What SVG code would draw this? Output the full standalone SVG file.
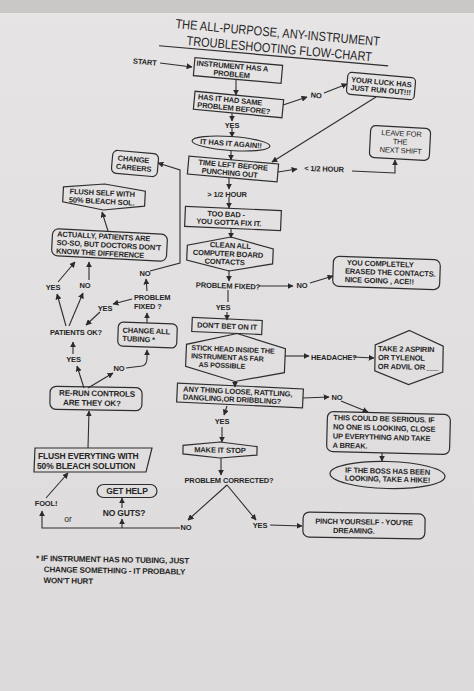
<svg xmlns="http://www.w3.org/2000/svg" width="474" height="691" viewBox="0 0 474 691">
<style>
.t{font-family:"Liberation Sans Narrow","Liberation Sans",Arial,sans-serif;font-weight:bold;font-size:7.5px;fill:#262626;letter-spacing:-0.15px}
.m{text-anchor:middle}
.lg{font-size:8.5px}
.fn{font-size:8px}
.rg{font-weight:normal}
.b{fill:none;stroke:#2e2e2e;stroke-width:1.2}
.c{fill:none;stroke:#2e2e2e;stroke-width:1.1;marker-end:url(#ah)}
.cn{fill:none;stroke:#2e2e2e;stroke-width:1.1}
.ti{font-family:"Liberation Sans Narrow","Liberation Sans",Arial,sans-serif;font-size:13px;fill:#262626;text-anchor:middle}
</style>
<defs>
<marker id="ah" viewBox="0 0 10 10" refX="9" refY="5" markerWidth="6" markerHeight="6" markerUnits="userSpaceOnUse" orient="auto"><path d="M0,0 L10,5 L0,10 z" fill="#2a2a2a"/></marker>
<linearGradient id="bg" x1="0" y1="0" x2="0" y2="1"><stop offset="0" stop-color="#e6e4e4"/><stop offset="1" stop-color="#dcdada"/></linearGradient>
</defs>
<rect width="474" height="691" fill="url(#bg)"/>
<rect width="474" height="13" fill="#cac8c7"/>

<g id="title">
<g transform="rotate(5 277 40)">
<text class="ti" x="277" y="37" textLength="205" lengthAdjust="spacingAndGlyphs">THE ALL-PURPOSE, ANY-INSTRUMENT</text>
<text class="ti" x="280" y="53" textLength="186" lengthAdjust="spacingAndGlyphs">TROUBLESHOOTING FLOW-CHART</text>
<line x1="160" y1="56" x2="390" y2="56" stroke="#2e2e2e" stroke-width="1.2"/>
</g>
</g>

<g id="connectors">
<path class="c" d="M160,63 L192,67"/>
<path class="c" d="M236,80 L236,95"/>
<path class="c" d="M283,105 L307,97"/>
<path class="c" d="M324,93 L347,84"/>
<path class="c" d="M376,97 L272,162"/>
<path class="c" d="M232,113 L232,121"/>
<path class="c" d="M232,128 L232,137"/>
<path class="c" d="M231,151 L231,160"/>
<path class="c" d="M278,172 L297,169"/>
<path class="c" d="M352,171 L395,173 L395,160"/>
<path class="c" d="M229,178 L229,189"/>
<path class="c" d="M229,197 L229,208"/>
<path class="c" d="M231,229 L231,238"/>
<path class="c" d="M229,270 L229,281"/>
<path class="cn" d="M228,290 L228,302"/>
<path class="c" d="M227,312 L227,320"/>
<path class="c" d="M259,286 L293,286"/>
<path class="c" d="M310,283 L333,276"/>
<path class="c" d="M285,356 L309,356"/>
<path class="c" d="M353,357 L374,358"/>
<path class="c" d="M235,381 L235,387"/>
<path class="c" d="M303,398 L329,397"/>
<path class="c" d="M341,401 L368,412"/>
<path class="c" d="M382,453 L382,461"/>
<path class="c" d="M227,406 L224,415"/>
<path class="c" d="M222,427 L222,442"/>
<path class="c" d="M221,458 L221,475"/>
<path class="c" d="M227,485 L188,520"/>
<path class="c" d="M227,485 L256,520"/>
<path class="c" d="M270,525 L302,526"/>
<path class="c" d="M180,528 L42,528 L42,511"/>
<path class="c" d="M122,528 L122,519"/>
<path class="c" d="M122,508 L122,498"/>
<path class="c" d="M46,498 L68,473"/>
<path class="c" d="M88,448 L89,411"/>
<path class="c" d="M84,388 L77,366"/>
<path class="c" d="M73,354 L73,342"/>
<path class="c" d="M88,388 L113,373"/>
<path class="c" d="M126,368 L142,366 Q147,365 147,358 L147,350"/>
<path class="c" d="M147,323 L147,313"/>
<path class="c" d="M132,299 L113,304"/>
<path class="c" d="M100,312 L86,325"/>
<path class="c" d="M147,291 L146,279"/>
<path class="c" d="M150,271 L180,263 L180,170 L158,163"/>
<path class="c" d="M66,326 L57,294"/>
<path class="c" d="M58,282 L75,262"/>
<path class="c" d="M69,326 L83,293"/>
<path class="c" d="M89,280 L89,262"/>
<path class="c" d="M108,231 L102,212"/>
</g>

<g id="n-start"><text class="t" x="133" y="64.5" transform="rotate(5 144 62)">START</text></g>

<g id="n-problem" transform="translate(238 70.5) rotate(5)">
<rect class="b" x="-44" y="-9" width="88" height="18"/>
<text class="t m" x="-6" y="-1.3">INSTRUMENT HAS A</text>
<text class="t m" x="-6" y="6.7">PROBLEM</text>
</g>

<g id="n-before" transform="translate(238.5 104.5) rotate(5.5)">
<rect class="b" x="-44.5" y="-9" width="89" height="18"/>
<text class="t" x="-41" y="-1.3">HAS IT HAD SAME</text>
<text class="t" x="-41" y="6.7">PROBLEM BEFORE?</text>
</g>

<g id="n-no1"><text class="t m" x="316" y="98" transform="rotate(4 316 96)">NO</text></g>

<g id="n-luck" transform="translate(381 86) rotate(5)">
<rect class="b" x="-34" y="-11" width="68" height="22" rx="4"/>
<text class="t m" x="0" y="-1.3">YOUR LUCK HAS</text>
<text class="t m" x="0" y="6.7">JUST RUN OUT!!!</text>
</g>

<g id="n-yes1"><text class="t m" x="232" y="127.5">YES</text></g>

<g id="n-again" transform="translate(231 143.5) rotate(4)">
<ellipse class="b" cx="0" cy="0" rx="39" ry="7"/>
<text class="t m" x="0" y="2.7">IT HAS IT AGAIN!!</text>
</g>

<g id="n-time" transform="translate(233 169) rotate(5)">
<rect class="b" x="-45" y="-9" width="90" height="18"/>
<text class="t" x="-35" y="-1.3">TIME LEFT BEFORE</text>
<text class="t" x="-31" y="6.7">PUNCHING OUT</text>
</g>

<g id="n-lt"><text class="t m" x="324" y="171.5" transform="rotate(2 324 170)">&lt; 1/2 HOUR</text></g>

<g id="n-leave" transform="translate(400 143) rotate(3)">
<rect class="b" x="-30" y="-16" width="60" height="32" rx="5"/>
<text class="t m rg" x="1" y="-7">LEAVE FOR</text>
<text class="t m rg" x="0" y="1.5">THE</text>
<text class="t m rg" x="1" y="10">NEXT SHIFT</text>
</g>

<g id="n-gt"><text class="t m" x="227" y="196.5">&gt; 1/2 HOUR</text></g>

<g id="n-toobad" transform="translate(233 218.5) rotate(2.5)">
<rect class="b" x="-48" y="-10" width="96" height="20"/>
<text class="t m" x="-7" y="-1.3">TOO BAD -</text>
<text class="t m" x="-4" y="6.7">YOU GOTTA FIX IT.</text>
</g>

<g id="n-clean" transform="translate(230 254) rotate(2.5)">
<polygon class="b" points="0,-17 43,-7 43,8 0,17 -43,8 -43,-7"/>
<text class="t m" x="0" y="-6">CLEAN ALL</text>
<text class="t m" x="-2" y="2.5">COMPUTER BOARD</text>
<text class="t m" x="-5" y="10.5">CONTACTS</text>
</g>

<g id="n-fixed1"><text class="t m" x="228" y="288.5" transform="rotate(2 228 286)">PROBLEM FIXED?</text></g>
<g id="n-no2"><text class="t m" x="302" y="288">NO</text></g>
<g id="n-yes2"><text class="t m" x="223" y="309.5">YES</text></g>

<g id="n-erased" transform="translate(386.5 273) rotate(2)">
<rect class="b" x="-53.5" y="-15" width="107" height="30" rx="6"/>
<text class="t" x="-40" y="-6.5">YOU COMPLETELY</text>
<text class="t" x="-41.5" y="2">ERASED THE CONTACTS.</text>
<text class="t" x="-41.5" y="10.5">NICE GOING , ACE!!</text>
</g>

<g id="n-dontbet" transform="translate(227 326) rotate(2.5)">
<rect class="b" x="-35" y="-7" width="70" height="14"/>
<text class="t m" x="0" y="2.7">DON'T BET ON IT</text>
</g>

<g id="n-stick" transform="translate(236 357.5) rotate(2.5)">
<polygon class="b" points="0,-24 49,-11 49,13 0,24 -50,11 -50,-11"/>
<text class="t" x="-45" y="-5.5" style="font-size:7.2px">STICK HEAD INSIDE THE</text>
<text class="t" x="-45" y="2.7" style="font-size:7.2px">INSTRUMENT AS FAR</text>
<text class="t" x="-37" y="11" style="font-size:7.2px">AS POSSIBLE</text>
</g>

<g id="n-headache"><text class="t" x="311" y="359.5">HEADACHE?</text></g>

<g id="n-aspirin" transform="translate(409 357.5) rotate(1)">
<polygon class="b" points="0,-27 34,-12 34,14 0,27 -34,14 -34,-12"/>
<text class="t" x="-31" y="-5.8">TAKE 2 ASPIRIN</text>
<text class="t" x="-31" y="3">OR TYLENOL</text>
<text class="t" x="-31" y="12">OR ADVIL OR ___</text>
</g>

<g id="n-loose" transform="translate(240 395.5) rotate(2.7)">
<rect class="b" x="-63" y="-9.5" width="126" height="19"/>
<text class="t" x="-57" y="-1.3">ANY THING LOOSE, RATTLING,</text>
<text class="t" x="-57" y="6.7">DANGLING,OR DRIBBLING?</text>
</g>

<g id="n-no3"><text class="t m" x="337" y="400">NO</text></g>

<g id="n-serious" transform="translate(388.5 433) rotate(1.5)">
<rect class="b" x="-61.5" y="-20" width="123" height="40" rx="6"/>
<text class="t" x="-55.5" y="-11.5">THIS COULD BE SERIOUS. IF</text>
<text class="t" x="-55.5" y="-2.3">NO ONE IS LOOKING, CLOSE</text>
<text class="t" x="-55.5" y="7">UP EVERYTHING AND TAKE</text>
<text class="t" x="-55.5" y="16.2">A BREAK.</text>
</g>

<g id="n-boss" transform="translate(387.5 475) rotate(1.5)">
<ellipse class="b" cx="0" cy="0" rx="57.5" ry="13.5"/>
<text class="t m" x="0" y="-1.3">IF THE BOSS HAS BEEN</text>
<text class="t m" x="0" y="6.7">LOOKING, TAKE A HIKE!</text>
</g>

<g id="n-yes3"><text class="t m" x="222" y="424">YES</text></g>

<g id="n-stop" transform="translate(220 450) rotate(1)">
<polygon class="b" points="0,-8 37,-4 37,4.5 0,8 -37,4.5 -37,-4"/>
<text class="t m" x="0" y="2.7">MAKE IT STOP</text>
</g>

<g id="n-corrected"><text class="t m" x="229" y="482.5">PROBLEM CORRECTED?</text></g>
<g id="n-no4"><text class="t m" x="186" y="529.5">NO</text></g>
<g id="n-yes4"><text class="t m" x="260" y="527.5">YES</text></g>

<g id="n-pinch" transform="translate(364 525.5) rotate(1)">
<rect class="b" x="-61" y="-12.5" width="122" height="25" rx="6"/>
<text class="t m" x="0" y="-1">PINCH YOURSELF - YOU'RE</text>
<text class="t m" x="-10" y="8">DREAMING.</text>
</g>

<g id="n-flushall">
<polygon class="b" points="35,448 152,448 146,472 34,472"/>
<text class="t lg" x="38" y="458.5">FLUSH EVERYTING WITH</text>
<text class="t lg" x="37" y="468.5">50% BLEACH SOLUTION</text>
</g>

<g id="n-fool"><text class="t m" x="46" y="505.5">FOOL!</text></g>
<g id="n-or"><text class="t m rg lg" x="68" y="521.5">or</text></g>
<g id="n-noguts"><text class="t m lg" x="124" y="515.5">NO GUTS?</text></g>

<g id="n-gethelp" transform="translate(127 491)">
<rect class="b" x="-30" y="-6.5" width="60" height="13" rx="6.5"/>
<text class="t m lg" x="0" y="3">GET HELP</text>
</g>

<g id="n-rerun" transform="translate(96 398.5) rotate(1)">
<rect class="b" x="-46" y="-11.5" width="92" height="23" rx="6"/>
<text class="t m fn" x="1" y="-2.3">RE-RUN CONTROLS</text>
<text class="t m fn" x="-4" y="7.3">ARE THEY OK?</text>
</g>

<g id="n-patients"><text class="t m" x="76" y="334.5">PATIENTS OK?</text></g>
<g id="n-yes5"><text class="t m" x="73.5" y="361.5">YES</text></g>
<g id="n-no5"><text class="t m" x="119" y="370.5">NO</text></g>

<g id="n-tubing" transform="translate(147.5 335) rotate(2)">
<rect class="b" x="-29.5" y="-12" width="59" height="24" rx="5"/>
<text class="t" x="-25" y="-1.5">CHANGE ALL</text>
<text class="t" x="-25" y="7">TUBING  *</text>
</g>

<g id="n-fixed2">
<text class="t" x="134" y="299.5">PROBLEM</text>
<text class="t" x="134" y="308.5">FIXED ?</text>
</g>
<g id="n-yes6"><text class="t m" x="105" y="310.5">YES</text></g>
<g id="n-no6"><text class="t m" x="145" y="276">NO</text></g>

<g id="n-careers" transform="translate(135 163.5) rotate(5)">
<rect class="b" x="-23" y="-11.5" width="46" height="23" rx="5"/>
<text class="t m" x="-2" y="-1.5">CHANGE</text>
<text class="t m" x="-1" y="7">CAREERS</text>
</g>

<g id="n-flushself" transform="translate(104 197) rotate(3)">
<polygon class="b" points="-41,-8 0,-13 41,-8 41,7 0,13 -41,7"/>
<text class="t m" x="-2" y="-1.5">FLUSH SELF WITH</text>
<text class="t m" x="-2" y="7">50% BLEACH SOL.</text>
</g>

<g id="n-actually" transform="translate(109.5 245) rotate(3)">
<rect class="b" x="-57.5" y="-13.5" width="115" height="27" rx="6"/>
<text class="t" x="-53" y="-5.8">ACTUALLY, PATIENTS ARE</text>
<text class="t" x="-53" y="2.7">SO-SO, BUT DOCTORS DON'T</text>
<text class="t" x="-53" y="11.2">KNOW THE DIFFERENCE</text>
</g>

<g id="n-yes7"><text class="t m" x="53" y="289.5">YES</text></g>
<g id="n-no7"><text class="t m" x="85" y="287.5">NO</text></g>

<g id="n-footnote" transform="rotate(1 38 560)">
<text class="t fn" x="36" y="561">* IF INSTRUMENT HAS NO TUBING, JUST</text>
<text class="t fn" x="44" y="572">CHANGE SOMETHING - IT PROBABLY</text>
<text class="t fn" x="44" y="583">WON'T HURT</text>
</g>
</svg>
